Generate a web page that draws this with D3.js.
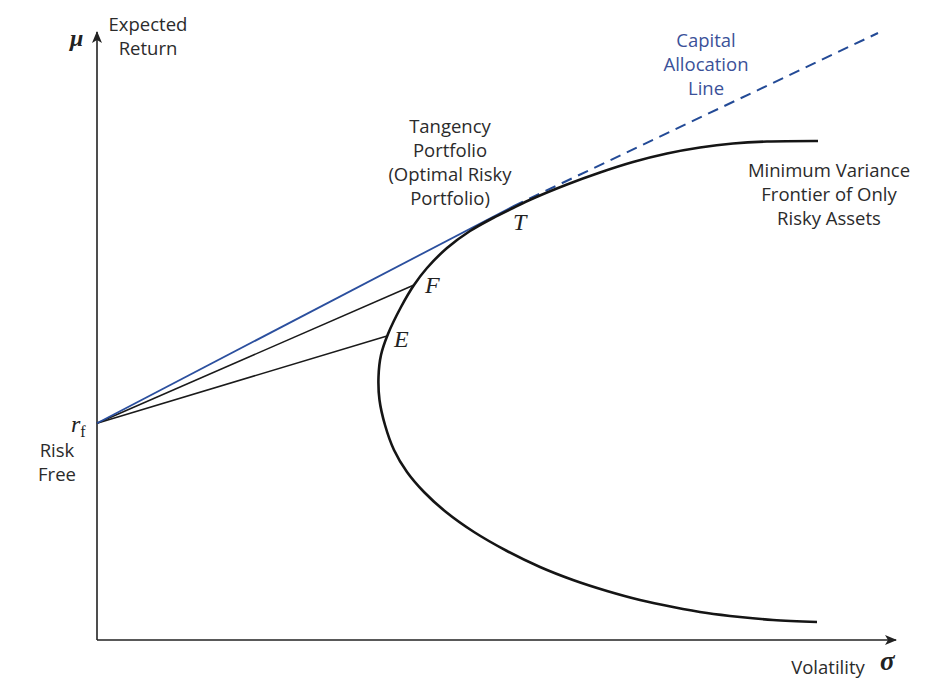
<!DOCTYPE html>
<html>
<head>
<meta charset="utf-8">
<script src="https://cdn.jsdelivr.net/npm/d3@7"></script>
<style>
  body { margin: 0; background: #fff; }
  .lbl { font-family: "Open Sans", Lato, sans-serif; font-size: 18.5px; fill: #2b2b2b; }
  .math { font-family: "Liberation Serif", "DejaVu Serif", serif; font-style: italic; font-size: 24px; fill: #222; }
</style>
</head>
<body>
<script>
// sigma (volatility) and mu (expected return), arbitrary units
var frontierSigma = [18.025,16.75,15.9,15.075,14.25,13.4,12.575,11.75,10.9,10.4,9.9,9.325,8.75,8.25,7.925,7.6,7.275,7.1,7.0375,7.0625,7.2,7.425,7.75,8.175,8.725,9.425,10.25,11.075,11.9,12.75,13.575,14.4,15.25,16.075,16.9,18.0];
var frontierMu    = [12.475,12.4625,12.4125,12.3125,12.1625,11.95,11.6875,11.3875,11.0375,10.8,10.55,10.225,9.8,9.3,8.875,8.325,7.65,7.125,6.575,6.0,5.375,4.75,4.2,3.7,3.2,2.7,2.225,1.825,1.5,1.225,1.0,0.825,0.675,0.575,0.5,0.45];

var rf = 5.42;
var portNames = ["E", "F", "T"];
var portSigma = [7.25, 7.925, 10.4];
var portMu    = [7.6, 8.875, 10.84];
var calEndSigma = 19.525, calEndMu = 15.175;

var width = 945, height = 696;
var x = d3.scaleLinear().domain([0, 20]).range([97, 897]);
var y = d3.scaleLinear().domain([0, 15]).range([640, 40]);

var svg = d3.select("body").append("svg")
  .attr("width", width).attr("height", height);

var defs = svg.append("defs");
defs.append("marker")
  .attr("id", "arrow")
  .attr("viewBox", "0 0 12 10")
  .attr("refX", 11).attr("refY", 5)
  .attr("markerWidth", 12).attr("markerHeight", 10)
  .attr("markerUnits", "userSpaceOnUse")
  .attr("orient", "auto")
  .append("path")
  .attr("d", "M0,0 L12,5 L0,10 L3,5 Z")
  .attr("fill", "#222");

// axes
svg.append("line")
  .attr("x1", x(0)).attr("y1", y(0))
  .attr("x2", x(0)).attr("y2", 32)
  .attr("stroke", "#222").attr("stroke-width", 1.6)
  .attr("marker-end", "url(#arrow)");
svg.append("line")
  .attr("x1", x(0)).attr("y1", y(0))
  .attr("x2", 896).attr("y2", y(0))
  .attr("stroke", "#222").attr("stroke-width", 1.6)
  .attr("marker-end", "url(#arrow)");

// lines from risk free to E and F
[0, 1].forEach(function(i) {
  svg.append("line")
    .attr("x1", x(0)).attr("y1", y(rf))
    .attr("x2", x(portSigma[i])).attr("y2", y(portMu[i]))
    .attr("stroke", "#1a1a1a").attr("stroke-width", 1.5);
});

// capital allocation line
svg.append("line")
  .attr("x1", x(0)).attr("y1", y(rf))
  .attr("x2", x(portSigma[2])).attr("y2", y(portMu[2]))
  .attr("stroke", "#2b4f9e").attr("stroke-width", 1.8);
svg.append("line")
  .attr("x1", x(portSigma[2])).attr("y1", y(portMu[2]))
  .attr("x2", x(calEndSigma)).attr("y2", y(calEndMu))
  .attr("stroke", "#234a96").attr("stroke-width", 2)
  .attr("stroke-dasharray", "11,7");

// minimum variance frontier
var pts = frontierSigma.map(function(s, i) { return [s, frontierMu[i]]; });
var line = d3.line()
  .x(function(d) { return x(d[0]); })
  .y(function(d) { return y(d[1]); })
  .curve(d3.curveCatmullRom.alpha(0.5));
svg.append("path")
  .datum(pts)
  .attr("d", line)
  .attr("fill", "none")
  .attr("stroke", "#151515")
  .attr("stroke-width", 2.6);

// text blocks
function block(lines, cx, y0, color) {
  var t = svg.append("text").attr("class", "lbl").attr("text-anchor", "middle");
  if (color) t.style("fill", color);
  lines.forEach(function(s, i) {
    t.append("tspan").attr("x", cx).attr("y", y0 + i * 24).text(s);
  });
}
block(["Expected", "Return"], 148, 31);
block(["Risk", "Free"], 57, 457);
block(["Volatility"], 828, 674);
block(["Tangency", "Portfolio", "(Optimal Risky", "Portfolio)"], 450, 133);
block(["Capital", "Allocation", "Line"], 706, 47, "#3b5199");
block(["Minimum Variance", "Frontier of Only", "Risky Assets"], 829, 177);

// math symbols
svg.append("text").attr("class", "math").attr("x", 70).attr("y", 46).style("font-weight", "bold").text("μ");
svg.append("text").attr("class", "math").attr("x", 880).attr("y", 670).style("font-size", "27px").style("font-weight", "bold").text("σ");
var r = svg.append("text").attr("class", "math").attr("x", 71).attr("y", 432).text("r");
r.append("tspan").attr("dy", 5).style("font-style", "normal").style("font-size", "16px").text("f");

var labOff = { E: [7, 11], F: [11, 8], T: [0, 24] };
portNames.forEach(function(n, i) {
  svg.append("text").attr("class", "math")
    .attr("x", x(portSigma[i]) + labOff[n][0])
    .attr("y", y(portMu[i]) + labOff[n][1])
    .text(n);
});
</script>
</body>
</html>
